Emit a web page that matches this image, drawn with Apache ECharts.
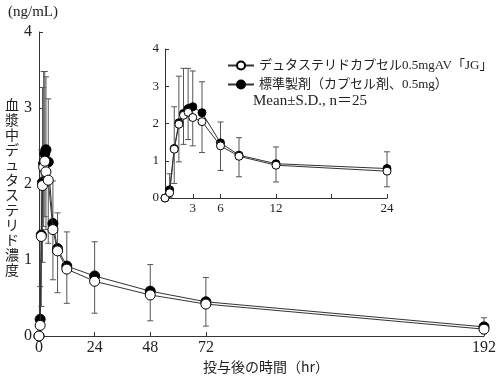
<!DOCTYPE html>
<html><head><meta charset="utf-8">
<script src="https://cdn.jsdelivr.net/npm/echarts@6/dist/echarts.min.js"></script>
<style>html,body{margin:0;padding:0;background:#fff}#c{width:501px;height:381px}</style>
</head><body><div id="c"></div>
<script>
const times = [0, 0.5, 1, 1.5, 2, 2.5, 3, 4, 6, 8, 12, 24, 48, 72, 192];
const testMean = [0, 0.14, 1.31, 1.98, 2.22, 2.30, 2.16, 2.05, 1.40, 1.12, 0.88, 0.72, 0.54, 0.42, 0.09];
const refMean = [0, 0.22, 1.33, 2.02, 2.27, 2.40, 2.45, 2.29, 1.48, 1.15, 0.92, 0.79, 0.59, 0.45, 0.12];
const barHigh = [0, 0.65, 2.45, 3.27, 3.48, 3.48, 3.41, 3.12, 2.04, 1.62, 1.37, 1.24, 0.94, 0.77, 0.24];
const barLow = [0, 0.02, 0.39, 0.97, 1.44, 1.57, 1.40, 1.22, 0.74, 0.57, 0.43, 0.30, 0.20, 0.13, 0.03];
const testName = 'デュタステリドカプセル0.5mgAV「JG」';
const refName = '標準製剤（カプセル剤、0.5mg）';
const noteText = 'Mean±S.D., n＝25';
const mainXTicks = [0, 24, 48, 72, 192];
const insetXTicks = [0, 3, 6, 12, 18, 24];
const insetXLabels = [3, 6, 12, 24];
const yTitle = '(ng/mL)';
const yName = '血漿中デュタステリド濃度';
const xName = '投与後の時間（hr）';

const FONT = "'Liberation Serif', 'DejaVu Serif', 'Noto Sans CJK JP'";
const INK = '#333';

function pts(arr, maxT) {
  const out = [];
  times.forEach((t, i) => { if (t <= maxT) out.push([t, arr[i]]); });
  return out;
}
function bars(maxT) {
  const out = [];
  times.forEach((t, i) => { if (t <= maxT && t > 0) out.push([t, barLow[i], barHigh[i]]); });
  return out;
}
function errRender(cap) {
  return function (params, api) {
    const x = api.value(0), lo = api.value(1), hi = api.value(2);
    const a = api.coord([x, lo]), b = api.coord([x, hi]);
    const st = { stroke: '#555', lineWidth: 1 };
    return { type: 'group', children: [
      { type: 'line', shape: { x1: a[0], y1: a[1], x2: b[0], y2: b[1] }, style: st },
      { type: 'line', shape: { x1: a[0] - cap, y1: a[1], x2: a[0] + cap, y2: a[1] }, style: st },
      { type: 'line', shape: { x1: b[0] - cap, y1: b[1], x2: b[0] + cap, y2: b[1] }, style: st }
    ]};
  };
}
function lineSeries(name, data, idx, filled, size, z) {
  return {
    name: name, type: 'line', xAxisIndex: idx, yAxisIndex: idx, data: data,
    symbol: 'circle', symbolSize: size, z: z, animation: false,
    lineStyle: { color: INK, width: 1 },
    itemStyle: { color: filled ? '#000' : '#fff', borderColor: '#000', borderWidth: 1 }
  };
}
const axisLine = { show: true, lineStyle: { color: INK, width: 1 } };

const chart = echarts.init(document.getElementById('c'));
chart.setOption({
  animation: false,
  grid: [
    { left: 39, right: 17, top: 32, bottom: 45, containLabel: false },
    { left: 165, right: 114, top: 49, bottom: 183, containLabel: false }
  ],
  legend: {
    data: [testName, refName], orient: 'vertical', left: 222, top: 54,
    itemWidth: 26, itemHeight: 10, itemGap: 6,
    textStyle: { fontFamily: FONT, fontSize: 13, color: '#222' }
  },
  xAxis: [
    { type: 'value', gridIndex: 0, min: 0, max: 192, axisLine: axisLine, splitLine: { show: false },
      axisTick: { inside: true, length: 4, lineStyle: { color: INK }, customValues: mainXTicks },
      axisLabel: { customValues: mainXTicks, fontFamily: FONT, fontSize: 16, color: '#222', margin: 4 } },
    { type: 'value', gridIndex: 1, min: 0, max: 24, axisLine: axisLine, splitLine: { show: false },
      axisTick: { inside: true, length: 4, lineStyle: { color: INK }, customValues: insetXTicks },
      axisLabel: { customValues: insetXLabels, fontFamily: FONT, fontSize: 13, color: '#222', margin: 4 } }
  ],
  yAxis: [
    { type: 'value', gridIndex: 0, min: 0, max: 4, interval: 1, axisLine: axisLine, splitLine: { show: false },
      axisTick: { show: true, inside: true, length: 4, lineStyle: { color: INK } },
      axisLabel: { fontFamily: FONT, fontSize: 16, color: '#222', margin: 7 } },
    { type: 'value', gridIndex: 1, min: 0, max: 4, interval: 1, axisLine: axisLine, splitLine: { show: false },
      axisTick: { show: true, inside: true, length: 4, lineStyle: { color: INK } },
      axisLabel: { fontFamily: FONT, fontSize: 13, color: '#222', margin: 6 } }
  ],
  series: [
    { type: 'custom', xAxisIndex: 0, yAxisIndex: 0, data: bars(192), renderItem: errRender(3), z: 1, silent: true },
    { type: 'custom', xAxisIndex: 1, yAxisIndex: 1, data: bars(24), renderItem: errRender(3), z: 1, silent: true },
    lineSeries(refName, pts(refMean, 192), 0, true, 10, 2),
    lineSeries(testName, pts(testMean, 192), 0, false, 10, 3),
    lineSeries(refName, pts(refMean, 24), 1, true, 8, 2),
    lineSeries(testName, pts(testMean, 24), 1, false, 8, 3)
  ],
  graphic: [
    { type: 'text', left: 8, top: 5, style: { text: yTitle, font: "15px " + FONT, fill: '#222' } },
    { type: 'text', left: 5, top: 97, style: { text: yName.split('').join('\n'), font: "14px 'Noto Sans CJK JP'", lineHeight: 15, fill: '#222', align: 'left' } },
    { type: 'text', left: 203, top: 360, style: { text: xName, font: "14px 'Noto Sans CJK JP'", fill: '#222' } },
    { type: 'text', left: 253, top: 94, style: { text: noteText, font: "15px " + FONT, fill: '#222' } }
  ]
});
</script></body></html>
